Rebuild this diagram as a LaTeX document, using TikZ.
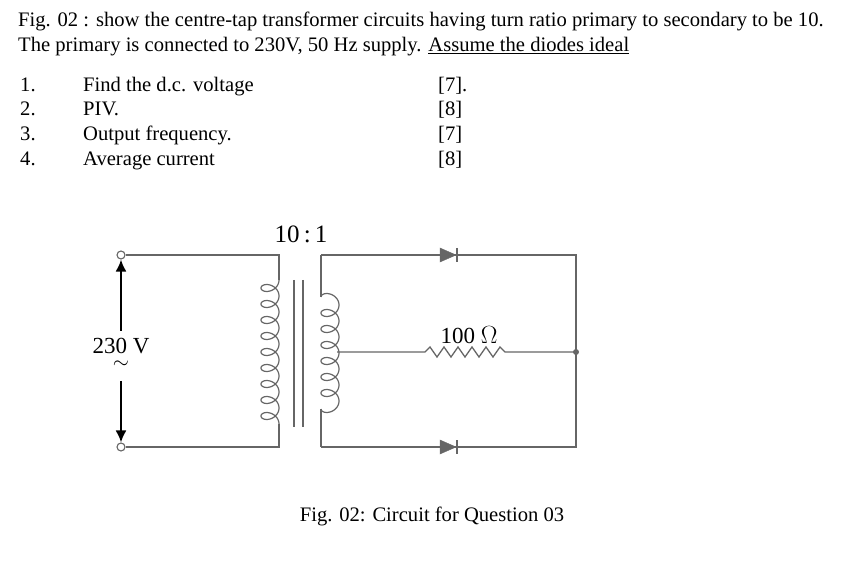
\documentclass[tikz,border=0pt]{standalone}
\usepackage{fontspec}
\setmainfont{Liberation Serif}
\usetikzlibrary{arrows.meta}
\begin{document}
\begin{tikzpicture}[x=1pt,y=-1pt,
  wire/.style={draw=black!60,line width=1.3pt},
  txt/.style={anchor=base west,inner sep=0pt,font=\fontsize{20.6}{24}\selectfont},
  ctxt/.style={inner sep=0pt,font=\fontsize{20.6}{24}\selectfont},
  term/.style={circle,draw=black!60,fill=white,minimum size=8pt,inner sep=0pt,line width=1.1pt},
  diode/.style={fill=black!60,draw=black!60}]
\useasboundingbox (0,0) rectangle (855,572);
\node[txt] (t1) at (18,27) {Fig. 02 : show the centre-tap transformer circuits having turn ratio primary to secondary to be 10.};
\node[txt] (t2) at (18,52) {The primary is connected to 230V, 50 Hz supply. \underline{Assume the diodes ideal}};
\foreach \n/\yy/\t/\m in {1/92/Find the d.c. voltage/[7].,2/116/PIV./[8],3/141/Output frequency./[7],4/166/Average current/[8]}{
  \node[txt] (n\n) at (20,\yy) {\n.};
  \node[txt] (q\n) at (83,\yy) {\t};
  \node[txt] (m\n) at (438,\yy) {\m};
}
\node[ctxt] (cap) at (432,516) {Fig. 02: Circuit for Question 03};
\node[ctxt,font=\fontsize{25}{27}\selectfont] (ratio) at (301,234) {10\,:\,1};
% terminals
\node[term] (a) at (121,255) {};
\node[term] (b) at (121,447) {};
\node[ctxt,font=\fontsize{23}{25}\selectfont] (v) at (121,346) {230 V};
\node[ctxt,font=\fontsize{20}{22}\selectfont,minimum height=6pt] (tl) at (121,368) {\smash{$\sim$}};
\draw[-{Latex[length=12pt,width=11pt]},line width=2pt] (121,331) -- (a);
\draw[-{Latex[length=12pt,width=11pt]},line width=2pt] (121,381) -- (b);
% primary
\draw[wire] (a) -- (279,255) -- (279,280);
\draw[wire,line width=1.2pt] plot[domain=0:56.55,samples=400,smooth] ({279-9*(1-cos(\x r))},{280+16*\x/6.2832+7*sin(\x r)});
\draw[wire] (279,424) -- (279,447) -- (b);
% core
\draw[wire] (294,280) -- (294,427);
\draw[wire] (303,280) -- (303,427);
% secondary
\coordinate (st) at (321,255);
\coordinate (sb) at (321,447);
\draw[wire] (st) -- (321,297);
\draw[wire,line width=1.2pt] plot[domain=0:43.98,samples=300,smooth] ({321+9*(1-cos(\x r))},{297+16*\x/6.2832-7*sin(\x r)});
\draw[wire] (321,409) -- (sb);
% center tap and resistor
\coordinate (ct) at (337,352);
\coordinate (rr) at (576,352);
\draw[wire] (ct) -- (425,352) -- (430,347) -- (437,357) -- (444,347) -- (451,357) -- (458,347) -- (465,357) -- (472,347) -- (479,357) -- (486,347) -- (493,357) -- (500,347) -- (505,352) -- (rr);
\fill[black!60] (rr) circle (3pt);
\node[ctxt,font=\fontsize{23}{25}\selectfont] (r) at (469,335) {100 $\Omega$};
% right loop with diodes
\draw[wire] (st) -- (576,255) -- (rr) -- (576,447) -- (sb);
\foreach \yy in {255,447}{
  \fill[diode] (440,\yy-7) -- (456,\yy) -- (440,\yy+7) -- cycle;
  \draw[wire,line width=2pt] (457,\yy-7) -- (457,\yy+7);
}
\end{tikzpicture}
\end{document}
